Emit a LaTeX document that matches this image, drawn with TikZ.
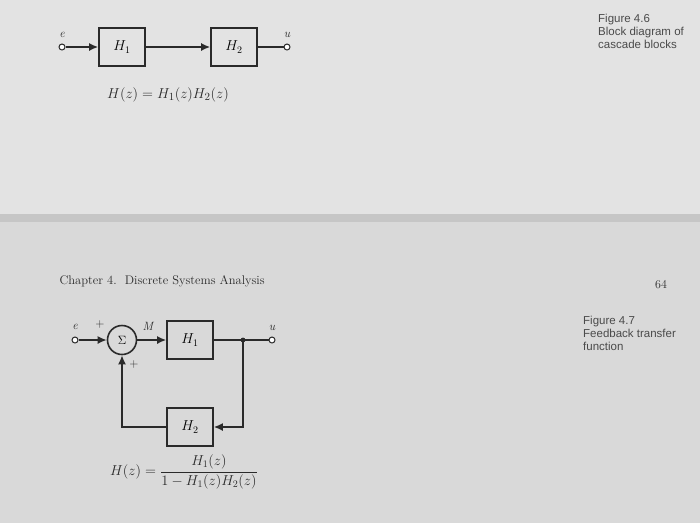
\documentclass[tikz,border=0pt]{standalone}
\usepackage{fontspec}
\newfontfamily\capfont{Liberation Sans}
\usetikzlibrary{arrows.meta}
\begin{document}
\begin{tikzpicture}[x=1pt,y=-1pt,
  blk/.style={draw=ink,line width=1.6pt,minimum width=46pt,minimum height=38pt,inner sep=0pt,font=\Large},
  ln/.style={draw=ink,line width=1.6pt},
  arr/.style={ln,-{Latex[length=9pt,width=8pt]}},
  term/.style={circle,draw=ink,line width=1pt,fill=white,inner sep=0pt,minimum size=6pt},
  lbl/.style={text=ink,font=\itshape\large},
  captxt/.style={text=ink!85,font=\capfont\fontsize{11.5}{13}\selectfont,align=left,anchor=north west,inner sep=0pt}]
\definecolor{ink}{HTML}{2A2A2A}
\fill[gray!22] (0,0) rectangle (700,523);
\fill[gray!30] (0,222) rectangle (700,523);
\fill[gray!45] (0,214) rectangle (700,222);
% top figure
\node[term] (e1) at (62,47) {};
\node[lbl] at (62,35) {e};
\node[blk] (a1) at (122,47) {$H_1$};
\node[blk] (a2) at (234,47) {$H_2$};
\node[term] (u1) at (287,47) {};
\node[lbl] at (287,35) {u};
\draw[arr] (e1) -- (a1);
\draw[arr] (a1) -- (a2);
\draw[ln] (a2) -- (u1);
\node[text=ink,font=\fontsize{15}{18}\selectfont] (f1) at (168,95) {$H(z)=H_1(z)H_2(z)$};
\node[captxt] (c1) at (598,14) {Figure 4.6\\Block diagram of\\cascade blocks};
% page 2
\node[text=ink,anchor=west,font=\fontsize{12.5}{15}\selectfont] (ch) at (56,281) {Chapter 4.\ \ Discrete Systems Analysis};
\node[text=ink,font=\large] (pg) at (661,285) {64};
\node[captxt] (c2) at (583,316) {Figure 4.7\\Feedback transfer\\function};
\node[term] (e2) at (75,340) {};
\node[lbl] at (75,327) {e};
\node[circle,draw=ink,line width=1.6pt,minimum size=29pt,inner sep=0pt,font=\large] (s) at (122,340) {$\Sigma$};
\node[blk] (b1) at (190,340) {$H_1$};
\node[blk] (b2) at (190,427) {$H_2$};
\coordinate (j) at (243,340);
\node[term] (u2) at (272,340) {};
\node[lbl] at (272,328) {u};
\node[text=ink,font=\large] at (100,324) {$+$};
\node[text=ink,font=\large] at (134,364) {$+$};
\node[lbl] at (148,326) {M};
\draw[arr] (e2) -- (s);
\draw[arr] (s) -- (b1);
\draw[ln] (b1) -- (u2);
\fill[ink] (j) circle (2.4pt);
\draw[arr] (j) |- (b2);
\draw[arr] (b2) -| (s);
\node[text=ink,font=\fontsize{14}{17}\selectfont] (f2) at (184,472) {$H(z)=\displaystyle\frac{H_1(z)}{1-H_1(z)H_2(z)}$};
\end{tikzpicture}
\end{document}
